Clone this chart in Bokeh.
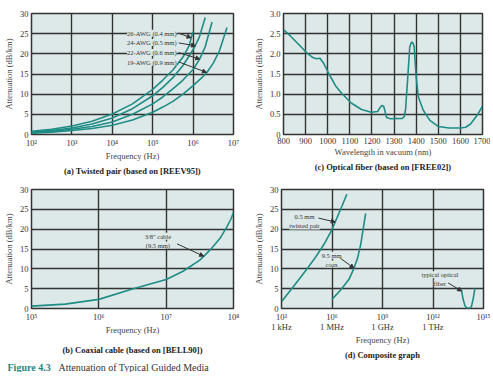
from bokeh.plotting import figure
from bokeh.models import (FixedTicker, Title, Label, LabelSet, Arrow, NormalHead,
                          ColumnDataSource, Range1d)
from bokeh.layouts import column, row
from bokeh.embed import file_html
from bokeh.resources import INLINE
from bokeh.core.properties import value

FONT = "Liberation Serif"
BG = "#dde9e8"
GRID = "#333333"
TEAL = "#1f8c85"
DARK = "#333333"

# ---------------- data ----------------
# (a) twisted pair
a_f26 = [1e2, 3.16e2, 1e3, 3.16e3, 1e4, 3.16e4, 1e5, 1.78e5, 3.16e5, 5.62e5, 7.94e5, 1e6]
a_v26 = [0.8, 1.3, 2.1, 3.3, 5.1, 7.6, 11.2, 13.5, 16.0, 19.2, 22.0, 25.5]
a_f24 = [1e2, 3.16e2, 1e3, 3.16e3, 1e4, 3.16e4, 1e5, 1.78e5, 3.16e5, 5.62e5, 1e6, 1.41e6, 2e6]
a_v24 = [0.6, 1.0, 1.6, 2.6, 4.1, 6.4, 9.6, 11.7, 14.1, 17.1, 21.0, 24.0, 29.0]
a_f22 = [1e2, 3.16e2, 1e3, 3.16e3, 1e4, 3.16e4, 1e5, 1.78e5, 3.16e5, 5.62e5, 1e6, 1.45e6, 2e6, 2.95e6]
a_v22 = [0.4, 0.8, 1.3, 2.0, 3.1, 5.0, 7.6, 9.3, 11.3, 13.5, 16.1, 18.7, 21.8, 27.9]
a_f19 = [1e2, 3.16e2, 1e3, 3.16e3, 1e4, 3.16e4, 1e5, 1.78e5, 3.16e5, 5.62e5, 1e6, 1.58e6, 2.24e6, 3.16e6, 4.47e6, 6.9e6]
a_v19 = [0.3, 0.6, 1.0, 1.5, 2.3, 3.6, 5.5, 6.8, 8.2, 10.0, 12.1, 13.9, 15.5, 17.7, 20.7, 26.5]
a_labels = ["26-AWG (0.4 mm)", "24-AWG (0.5 mm)", "22-AWG (0.6 mm)", "19-AWG (0.9 mm)"]
a_lab_x = [3.9e5, 3.9e5, 3.9e5, 3.9e5]
a_lab_y = [25.1, 22.8, 20.3, 17.9]
a_arr_x0 = [4.4e5, 4.4e5, 4.4e5, 4.4e5]
a_arr_y0 = [25.1, 22.7, 20.3, 18.0]
a_arr_x1 = [8.9e5, 1.14e6, 1.46e6, 2.14e6]
a_arr_y1 = [24.0, 22.0, 18.7, 15.4]
a_xticks = [1e2, 1e3, 1e4, 1e5, 1e6, 1e7]
a_xtick_labels = ["10²", "10³", "10⁴", "10⁵", "10⁶", "10⁷"]

# (c) optical fiber
c_wl = [800, 830, 860, 880, 906, 932, 950, 965, 980, 1006, 1035, 1065, 1106, 1153, 1197, 1226,
        1238, 1246, 1253, 1259, 1266, 1285, 1337, 1346, 1352, 1362, 1371, 1377, 1381, 1386,
        1391, 1400, 1410, 1432, 1462, 1499, 1550, 1600, 1624, 1646, 1675, 1700]
c_att = [2.60, 2.45, 2.28, 2.17, 2.02, 1.91, 1.88, 1.89, 1.78, 1.50, 1.21, 1.01, 0.78, 0.62, 0.55, 0.57,
         0.68, 0.72, 0.70, 0.58, 0.42, 0.39, 0.40, 0.44, 0.62, 1.42, 2.17, 2.27, 2.29, 2.26,
         2.17, 1.42, 0.93, 0.60, 0.35, 0.20, 0.16, 0.16, 0.18, 0.26, 0.47, 0.70]
c_xticks = [800, 900, 1000, 1100, 1200, 1300, 1400, 1500, 1600, 1700]
c_yticks = [0, 0.5, 1.0, 1.5, 2.0, 2.5, 3.0]
c_ytick_labels = ["0", "0.5", "1.0", "1.5", "2.0", "2.5", "3.0"]

# (b) coaxial cable
b_f = [1e5, 3.16e5, 1e6, 3.16e6, 1e7, 1.78e7, 3.16e7, 4.47e7, 6.31e7, 7.94e7, 9.12e7, 1e8]
b_v = [0.6, 1.1, 2.3, 4.9, 7.3, 9.4, 12.2, 14.7, 17.7, 20.5, 22.5, 24.2]
b_labels = ['3/8" cable', "(9.5 mm)"]
b_lab_x = [7.53e6, 7.53e6]
b_lab_y = [18.2, 16.0]
b_arr_x0 = [1.45e7]
b_arr_y0 = [16.3]
b_arr_x1 = [3.6e7]
b_arr_y1 = [13.2]
b_xticks = [1e5, 1e6, 1e7, 1e8]
b_xtick_labels = ["10⁵", "10⁶", "10⁷", "10⁸"]

# (d) composite
d_tp_f = [1e3, 3.16e3, 1e4, 3.16e4, 1e5, 3.16e5, 1e6, 1.58e6, 2.51e6, 3.98e6, 7.59e6]
d_tp_v = [1.7, 4.4, 7.1, 9.9, 12.8, 16.0, 19.9, 21.9, 23.9, 25.9, 28.8]
d_cx_f = [1e6, 3.16e6, 1e7, 1.78e7, 3.16e7, 5.01e7, 7.08e7, 1e8]
d_cx_v = [2.3, 4.6, 7.3, 9.6, 12.4, 16.0, 20.0, 24.0]
d_of_f = [4.9e13, 6.0e13, 7.9e13, 1.0e14, 1.2e14, 1.5e14, 1.9e14, 2.45e14, 3.1e14]
d_of_v = [4.7, 2.5, 0.7, 0.2, 0.05, 0.1, 0.4, 2.5, 5.1]
d_labels = ["0.5 mm", "twisted pair", "9.5 mm", "coax", "typical optical", "fiber"]
d_lab_x = [2.34e4, 2.34e4, 9.55e5, 9.55e5, 2.57e12, 2.57e12]
d_lab_y = [23.2, 20.8, 13.4, 11.2, 8.5, 6.4]
d_arr_x0 = [1.55e5, 3.09e6, 7.9e12]
d_arr_y0 = [22.8, 12.7, 6.45]
d_arr_x1 = [1.55e6, 2.0e7, 5.0e13]
d_arr_y1 = [21.8, 10.2, 4.4]
d_xticks = [1e3, 1e6, 1e9, 1e12, 1e15]
d_xtick_labels = ["10³\n1 kHz", "10⁶\n1 MHz", "10⁹\n1 GHz", "10¹²\n1 THz", "10¹⁵"]

att_yticks = [0, 5, 10, 15, 20, 25, 30]

fig_label = "Figure 4.3"
fig_title = "Attenuation of Typical Guided Media"


def make_fig(width, height, xr, yr, log, bl, br, bt, bb):
    p = figure(width=width, height=height, x_range=Range1d(*xr), y_range=Range1d(*yr),
               x_axis_type="log" if log else "linear", output_backend="svg",
               toolbar_location=None, min_border_left=bl, min_border_right=br,
               min_border_top=bt, min_border_bottom=bb)
    p.background_fill_color = BG
    p.border_fill_color = "white"
    p.outline_line_color = GRID
    p.outline_line_width = 1.5
    for g in (p.xgrid, p.ygrid):
        g.grid_line_color = GRID
        g.grid_line_width = 1.4
    for ax in (p.xaxis, p.yaxis):
        ax.axis_line_color = None
        ax.major_tick_line_color = None
        ax.minor_tick_line_color = None
        ax.major_tick_out = 0
        ax.major_tick_in = 0
        ax.major_label_text_font = FONT
        ax.major_label_text_font_size = "8.5px"
        ax.major_label_text_color = DARK
        ax.axis_label_text_font = FONT
        ax.axis_label_text_font_size = "8.5px"
        ax.axis_label_text_font_style = "normal"
        ax.axis_label_text_color = "#444444"
    p.xaxis.major_label_standoff = 3
    p.xaxis.axis_label_standoff = 0
    p.yaxis.major_label_standoff = 3
    p.yaxis.axis_label_standoff = 3
    p.yaxis.axis_label = "Attenuation (dB/km)"
    return p


def caption(p, text, standoff):
    p.add_layout(Title(text=text, align="center", text_font=FONT, text_font_size="8.5px",
                       text_font_style="bold", text_color="#222222", standoff=standoff), "below")


def notes(p, xs, ys, texts, align):
    src = ColumnDataSource(dict(x=xs, y=ys, t=texts))
    p.add_layout(LabelSet(x="x", y="y", text="t", source=src, text_font=value(FONT),
                          text_font_size="6.5px", text_color=DARK, text_align=align,
                          text_baseline="middle", background_fill_color=BG))


def arrows(p, x0, y0, x1, y1):
    src = ColumnDataSource(dict(x0=x0, y0=y0, x1=x1, y1=y1))
    p.add_layout(Arrow(x_start="x0", y_start="y0", x_end="x1", y_end="y1", source=src,
                       line_color=DARK, line_width=1,
                       end=NormalHead(size=4, line_color=DARK, fill_color=DARK, line_width=1)))


# ---- (a)
pa = make_fig(250, 180, (1e2, 1e7), (0, 30), True, 30, 17, 13, 46)
pa.xaxis.ticker = FixedTicker(ticks=a_xticks)
pa.xaxis.major_label_overrides = dict(zip(a_xticks, a_xtick_labels))
pa.yaxis.ticker = FixedTicker(ticks=att_yticks)
pa.xaxis.axis_label = "Frequency (Hz)"
for f, v in ((a_f26, a_v26), (a_f24, a_v24), (a_f22, a_v22), (a_f19, a_v19)):
    pa.line(f, v, line_color=TEAL, line_width=1.6)
notes(pa, a_lab_x, a_lab_y, a_labels, "right")
arrows(pa, a_arr_x0, a_arr_y0, a_arr_x1, a_arr_y1)
caption(pa, "(a) Twisted pair (based on [REEV95])", 1)

# ---- (c)
pc = make_fig(240, 180, (800, 1700), (0, 3), False, 28, 8, 13, 46)
pc.xaxis.ticker = FixedTicker(ticks=c_xticks)
pc.yaxis.ticker = FixedTicker(ticks=c_yticks)
pc.yaxis.major_label_overrides = dict(zip(c_yticks, c_ytick_labels))
pc.xaxis.axis_label = "Wavelength in vacuum (nm)"
pc.line(c_wl, c_att, line_color=TEAL, line_width=1.6)
caption(pc, "(c) Optical fiber (based on [FREE02])", 1)

# ---- (b)
pb = make_fig(250, 180, (1e5, 1e8), (0, 30), True, 30, 17, 9, 50)
pb.xaxis.ticker = FixedTicker(ticks=b_xticks)
pb.xaxis.major_label_overrides = dict(zip(b_xticks, b_xtick_labels))
pb.yaxis.ticker = FixedTicker(ticks=att_yticks)
pb.xaxis.axis_label = "Frequency (Hz)"
pb.line(b_f, b_v, line_color=TEAL, line_width=1.6)
notes(pb, b_lab_x, b_lab_y, b_labels, "center")
arrows(pb, b_arr_x0, b_arr_y0, b_arr_x1, b_arr_y1)
caption(pb, "(b) Coaxial cable (based on [BELL90])", 11)

# ---- (d)
pd = make_fig(240, 180, (1e3, 1e15), (0, 30), True, 29, 7, 9, 50)
pd.xaxis.ticker = FixedTicker(ticks=d_xticks)
pd.xaxis.major_label_overrides = dict(zip(d_xticks, d_xtick_labels))
pd.xaxis.major_label_text_line_height = 1.0
pd.yaxis.ticker = FixedTicker(ticks=att_yticks)
pd.xaxis.axis_label = "Frequency (Hz)"
pd.line(d_tp_f, d_tp_v, line_color=TEAL, line_width=1.6)
pd.line(d_cx_f, d_cx_v, line_color=TEAL, line_width=1.6)
pd.line(d_of_f, d_of_v, line_color=TEAL, line_width=1.6)
notes(pd, d_lab_x, d_lab_y, d_labels, "center")
arrows(pd, d_arr_x0, d_arr_y0, d_arr_x1, d_arr_y1)
caption(pd, "(d) Composite graph", 0)

# ---- figure caption strip
ps = figure(width=490, height=12, x_range=Range1d(0, 490), y_range=Range1d(0, 12),
            output_backend="svg", toolbar_location=None, min_border=0)
ps.axis.visible = False
ps.grid.visible = False
ps.outline_line_color = None
ps.add_layout(Label(x=7, y=5, text=fig_label, text_font=FONT, text_font_size="10px",
                    text_font_style="bold", text_color="#1f8583", text_baseline="middle"))
ps.add_layout(Label(x=58, y=5, text=fig_title, text_font=FONT,
                    text_font_size="10px", text_color=DARK, text_baseline="middle"))

layout = column(row(pa, pc), row(pb, pd), ps)
open("out.html", "w").write(file_html(layout, INLINE))
